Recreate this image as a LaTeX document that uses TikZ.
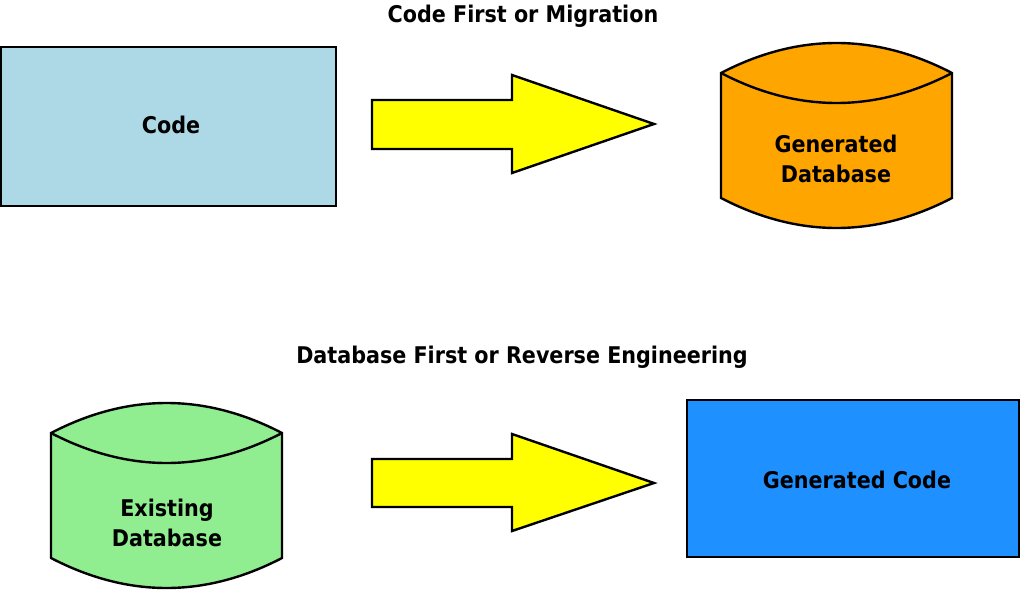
\documentclass[tikz,border=0pt]{standalone}
\usepackage{fontspec}
\setmainfont{DejaVu Sans}
\newfontfamily\lblfont{DejaVu Sans Condensed}[BoldFont={DejaVu Sans Condensed Bold}]
\begin{document}
\begin{tikzpicture}[x=1pt,y=-1pt,
  outl/.style={draw=black,line width=2.4pt,line join=miter},
  lbl/.style={font=\lblfont\bfseries\fontsize{23}{30}\selectfont,align=center,inner sep=0pt},
  ttl/.style={font=\lblfont\bfseries\fontsize{23}{26}\selectfont,inner sep=0pt}]
\useasboundingbox (0,0) rectangle (1024,591);
\definecolor{codeblue}{HTML}{ADD8E6}
\definecolor{genorange}{HTML}{FFA500}
\definecolor{exgreen}{HTML}{90EE90}
\definecolor{gencode}{HTML}{1E90FF}
\definecolor{arrowyellow}{HTML}{FFFF00}
% titles
\node[ttl] (t1) at (523,16) {Code First or Migration};
\node[ttl] (t2) at (522,357) {Database First or Reverse Engineering};
% top row
\draw[outl,fill=codeblue] (1,47) rectangle (336,206);
\node[lbl] (code) at (171,125) {Code};
\draw[outl,fill=arrowyellow] (372,100) -- (512,100) -- (512,75) -- (654,124) -- (512,173) -- (512,149) -- (372,149) -- cycle;
\draw[outl,fill=genorange] (721,73) .. controls (798,33) and (875,33) .. (952,73) -- (952,198)
  .. controls (875,238) and (798,238) .. (721,198) -- cycle;
\draw[outl] (721,73) .. controls (798,113) and (875,113) .. (952,73);
\node[lbl] (gdb) at (836,159) {Generated\\Database};
% bottom row
\draw[outl,fill=exgreen] (51,433) .. controls (128,393) and (205,393) .. (282,433) -- (282,558)
  .. controls (205,598) and (128,598) .. (51,558) -- cycle;
\draw[outl] (51,433) .. controls (128,473) and (205,473) .. (282,433);
\node[lbl] (edb) at (167,523) {Existing\\Database};
\draw[outl,fill=arrowyellow] (372,459) -- (512,459) -- (512,434) -- (654,483) -- (512,531) -- (512,507) -- (372,507) -- cycle;
\draw[outl,fill=gencode] (687,400) rectangle (1019,557);
\node[lbl] (gcode) at (857,480) {Generated Code};
\end{tikzpicture}
\end{document}
